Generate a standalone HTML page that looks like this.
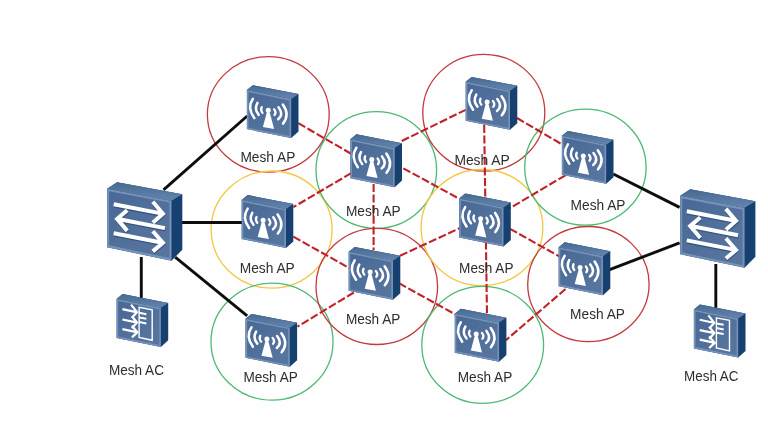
<!DOCTYPE html><html><head><meta charset="utf-8"><title>Mesh</title><style>html,body{margin:0;padding:0;background:#fefefe;}svg{display:block}text{font-family:"Liberation Sans",sans-serif;font-size:14px;fill:#2e2e2e}</style></head><body>
<svg width="768" height="447" viewBox="0 0 768 447">
<rect width="768" height="447" fill="#fefefe"/>
<defs><filter id="soft" filterUnits="userSpaceOnUse" x="0" y="0" width="768" height="447"><feGaussianBlur stdDeviation="0.5"/></filter><linearGradient id="fg" x1="0" y1="0" x2="1" y2="1"><stop offset="0" stop-color="#496996"/><stop offset="1" stop-color="#58769f"/></linearGradient><linearGradient id="tg" x1="0" y1="0" x2="0" y2="1"><stop offset="0" stop-color="#48698f"/><stop offset="1" stop-color="#6485b0"/></linearGradient>
<g id="box">
 <polygon points="0,0 6,-4.9 51.6,4 51.6,41.4 44.3,48.0 0,39.0" fill="#173f6f"/>
 <polygon points="0,0 6,-4.9 51.6,4 44.3,8.9" fill="url(#tg)"/>
 <polygon points="0,0 44.3,8.9 44.3,48.0 0,39.0" fill="#7492b9"/>
 <polygon points="1.6,2.0 42.7,10.3 42.7,46.0 1.6,37.6" fill="url(#fg)"/>
</g>
<g id="ap">
 <use href="#box"/>
 <g fill="none" stroke="#fff" stroke-width="2.5" stroke-linecap="round">
  <path d="M6.0,8.6 Q-0.2,17.5 7.4,28.0"/>
  <path d="M10.6,12.8 Q6.9,19.0 11.8,24.8"/>
  <path d="M14.8,17.0 Q13.3,19.9 15.6,22.8" stroke-width="2.3"/>
  <path d="M27.2,19.2 Q29.8,22.3 27.6,25.0" stroke-width="2.3"/>
  <path d="M31.6,17.2 Q37.2,24.4 31.3,29.2"/>
  <path d="M35.9,14.4 Q43.4,24.6 36.1,33.5"/>
 </g>
 <circle cx="21.4" cy="20.2" r="2.5" fill="#fff"/>
 <polygon points="20.0,22.0 22.9,22.4 27.2,38.9 16,36.9" fill="#fff"/>
</g>
<g id="ac">
 <use href="#box"/>
 <g fill="none" stroke="#fff" stroke-linecap="butt" stroke-linejoin="miter">
  <polygon points="22.5,8.4 35.6,10.9 35.6,41.4 22.5,38.5" stroke-width="1.4"/>
  <path d="M22.5,13.9 L29.8,15.3 M22.5,18.5 L29.8,19.9 M22.5,23.2 L29.8,24.6" stroke-width="2.0"/>
  <g stroke-width="2.2">
   <path d="M5.8,10.2 L19.6,13.2 M14.5,5.8 L20.4,13.4 L15.3,18.9"/>
   <path d="M5.8,20.6 L19.6,23.4 M15.3,17.4 L20.4,23.6 L15.3,29.4"/>
   <path d="M5.8,30.2 L19.9,33.2 M15.3,26.9 L20.8,33.4 L15.3,38.5"/>
  </g>
 </g>
</g><g id="swa" fill="none" stroke-width="4" stroke-linecap="butt" stroke-linejoin="miter">
  <path d="M6.6,15.5 L54,24.7 M45.7,13.1 L55.8,25.1 L45.7,34.0"/>
  <path d="M57.8,39.4 L12,30.5 M20.1,21.6 L10.0,30.2 L20.1,42.2"/>
  <path d="M6.6,44.6 L54,53.8 M45.7,42.6 L55.8,54.2 L45.7,62.7"/>
 </g>
<g id="sw">
 <polygon points="0,0 10,-6.5 75.2,5.5 75.2,61 64.4,72 0,58.5" fill="#173f6f"/>
 <polygon points="0,0 10,-6.5 75.2,5.5 64.4,12.0" fill="url(#tg)"/>
 <polygon points="0,0 64.4,12.0 64.4,72 0,58.5" fill="#7492b9"/>
 <polygon points="2,2.6 62.4,13.9 62.4,69.4 2,56.6" fill="url(#fg)"/>
 <use href="#swa" x="0.3" y="1.3" stroke="#2b4c7c" opacity="0.8"/>
 <use href="#swa" stroke="#fff"/>
</g></defs>
<g filter="url(#soft)">
<ellipse cx="268.3" cy="114.4" rx="60.9" ry="57.7" fill="none" stroke="#c23a3c" stroke-width="1.3"/>
<ellipse cx="271.6" cy="229.6" rx="60.5" ry="58.6" fill="none" stroke="#f3c840" stroke-width="1.3"/>
<ellipse cx="272.0" cy="341.7" rx="61.0" ry="58.5" fill="none" stroke="#4cba74" stroke-width="1.3"/>
<ellipse cx="376.3" cy="170.0" rx="60.3" ry="58.3" fill="none" stroke="#4cba74" stroke-width="1.3"/>
<ellipse cx="376.8" cy="286.4" rx="60.8" ry="58.1" fill="none" stroke="#c23a3c" stroke-width="1.3"/>
<ellipse cx="483.8" cy="112.7" rx="61.0" ry="58.4" fill="none" stroke="#c23a3c" stroke-width="1.3"/>
<ellipse cx="482.0" cy="227.6" rx="60.9" ry="58.1" fill="none" stroke="#f3c840" stroke-width="1.3"/>
<ellipse cx="482.7" cy="344.9" rx="60.9" ry="58.5" fill="none" stroke="#4cba74" stroke-width="1.3"/>
<ellipse cx="585.4" cy="167.2" rx="60.7" ry="58.0" fill="none" stroke="#4cba74" stroke-width="1.3"/>
<ellipse cx="588.4" cy="284.1" rx="60.7" ry="57.6" fill="none" stroke="#c23a3c" stroke-width="1.3"/>
<line x1="163.5" y1="189.8" x2="247.2" y2="116.0" stroke="#0c0c0c" stroke-width="2.9"/>
<line x1="181.9" y1="222.5" x2="242.2" y2="222.5" stroke="#0c0c0c" stroke-width="2.9"/>
<line x1="175.2" y1="257.1" x2="247.2" y2="315.8" stroke="#0c0c0c" stroke-width="2.9"/>
<line x1="141.3" y1="257" x2="141.3" y2="299" stroke="#0c0c0c" stroke-width="2.9"/>
<line x1="613.3" y1="174" x2="679.6" y2="207.4" stroke="#0c0c0c" stroke-width="2.9"/>
<line x1="609.7" y1="269.7" x2="679.6" y2="242.8" stroke="#0c0c0c" stroke-width="2.9"/>
<line x1="715.8" y1="264" x2="715.8" y2="309" stroke="#0c0c0c" stroke-width="2.9"/>
<line x1="298.3" y1="123.2" x2="351.2" y2="153.8" stroke="#bf2226" stroke-width="2.1" stroke-dasharray="8 2.6"/>
<line x1="351.2" y1="173.1" x2="293.4" y2="207.1" stroke="#bf2226" stroke-width="2.1" stroke-dasharray="8 2.6"/>
<line x1="293.4" y1="236.7" x2="350.4" y2="268.7" stroke="#bf2226" stroke-width="2.1" stroke-dasharray="8 2.6"/>
<line x1="353.9" y1="292.5" x2="297.5" y2="326.6" stroke="#bf2226" stroke-width="2.1" stroke-dasharray="8 2.6"/>
<line x1="373.6" y1="184" x2="373.6" y2="250" stroke="#bf2226" stroke-width="2.1" stroke-dasharray="8 2.6"/>
<line x1="401.7" y1="141.0" x2="465.6" y2="109.9" stroke="#bf2226" stroke-width="2.1" stroke-dasharray="8 2.6"/>
<line x1="403.3" y1="168.3" x2="458.9" y2="198.6" stroke="#bf2226" stroke-width="2.1" stroke-dasharray="8 2.6"/>
<line x1="400.1" y1="255.7" x2="460.2" y2="228.0" stroke="#bf2226" stroke-width="2.1" stroke-dasharray="8 2.6"/>
<line x1="399.0" y1="283.2" x2="456.4" y2="315.0" stroke="#bf2226" stroke-width="2.1" stroke-dasharray="8 2.6"/>
<line x1="484.17" y1="125" x2="487.0" y2="314" stroke="#bf2226" stroke-width="2.1" stroke-dasharray="8 2.6"/>
<line x1="517.0" y1="118.0" x2="562.7" y2="144.8" stroke="#bf2226" stroke-width="2.1" stroke-dasharray="8 2.6"/>
<line x1="565.4" y1="175.3" x2="509.8" y2="208.2" stroke="#bf2226" stroke-width="2.1" stroke-dasharray="8 2.6"/>
<line x1="510.0" y1="228.8" x2="559.3" y2="256.4" stroke="#bf2226" stroke-width="2.1" stroke-dasharray="8 2.6"/>
<line x1="565.6" y1="289.0" x2="506.0" y2="340.1" stroke="#bf2226" stroke-width="2.1" stroke-dasharray="8 2.6"/>
<use href="#sw" x="107.1" y="188.7"/>
<use href="#sw" x="680.2" y="195.8"/>
<use href="#ap" x="246.9" y="90.1"/>
<use href="#ap" x="241.7" y="200.0"/>
<use href="#ap" x="245.5" y="318.8"/>
<use href="#ap" x="350.4" y="139.2"/>
<use href="#ap" x="348.7" y="251.8"/>
<use href="#ap" x="465.7" y="81.8"/>
<use href="#ap" x="459.2" y="198.5"/>
<use href="#ap" x="454.8" y="313.7"/>
<use href="#ap" x="561.9" y="135.8"/>
<use href="#ap" x="558.7" y="247.2"/>
<use href="#ac" x="116.6" y="298.9"/>
<use href="#ac" x="693.9" y="309.5"/>
<text x="240.4" y="162.3" textLength="54.9" lengthAdjust="spacingAndGlyphs">Mesh AP</text>
<text x="239.7" y="273.4" textLength="55.1" lengthAdjust="spacingAndGlyphs">Mesh AP</text>
<text x="243.4" y="381.7" textLength="54.4" lengthAdjust="spacingAndGlyphs">Mesh AP</text>
<text x="345.9" y="216.3" textLength="54.8" lengthAdjust="spacingAndGlyphs">Mesh AP</text>
<text x="345.9" y="324.2" textLength="54.4" lengthAdjust="spacingAndGlyphs">Mesh AP</text>
<text x="454.4" y="165.4" textLength="55.4" lengthAdjust="spacingAndGlyphs">Mesh AP</text>
<text x="459.1" y="273.3" textLength="54.4" lengthAdjust="spacingAndGlyphs">Mesh AP</text>
<text x="457.8" y="381.7" textLength="54.4" lengthAdjust="spacingAndGlyphs">Mesh AP</text>
<text x="570.6" y="210.4" textLength="54.9" lengthAdjust="spacingAndGlyphs">Mesh AP</text>
<text x="570.1" y="318.9" textLength="54.9" lengthAdjust="spacingAndGlyphs">Mesh AP</text>
<text x="108.9" y="375.4" textLength="55.1" lengthAdjust="spacingAndGlyphs">Mesh AC</text>
<text x="684.1" y="380.5" textLength="54.4" lengthAdjust="spacingAndGlyphs">Mesh AC</text>
</g>
</svg></body></html>
